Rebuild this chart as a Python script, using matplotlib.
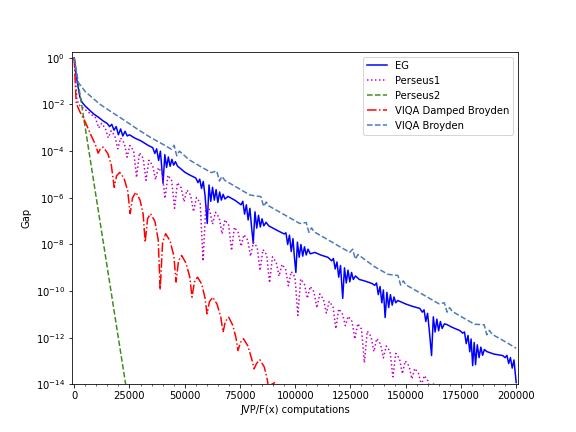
import numpy as np
import matplotlib.pyplot as plt

# x values in thousands of JVP/F(x) computations, y values as log10(Gap)
eg_x_k = [
    0, 0.5, 1.0, 1.5, 2.5, 3.5, 5, 7, 9, 11, 13, 15,
    16, 17, 18, 19, 20, 21, 22, 23, 24, 25, 27.6, 30, 33.4, 35.5,
    36.5, 37.3, 38.2, 39.0, 40.2, 41.0, 41.8, 42.6, 43.4, 44.2, 45.0, 45.8, 46.8, 47.9, 50, 52.4, 55,
    56.0, 56.8, 57.6, 58.4, 59.2, 60.2, 61.0, 61.8, 62.6, 63.4, 64.2, 65.0, 65.8, 66.6, 67.4, 68.2, 69.6, 72.8,
    75.5, 76.3, 77.1, 77.9, 78.7, 79.5, 80.2, 81.0, 81.8, 82.6, 83.4, 84.2, 85.0, 85.8, 86.8, 88.0, 90.9, 94,
    95.0, 95.8, 96.6, 97.4, 98.2, 99.0, 99.6, 100.3, 101.0, 101.8, 102.6, 103.4, 104.2, 105.0, 105.8, 106.8, 108.9, 111.5, 114.8,
    116.5, 117.3, 118.1, 118.9, 119.7, 120.5, 121.5, 122.3, 123.1, 123.9, 124.7, 125.5, 126.3, 127.3, 129, 131, 134.7,
    136.0, 136.8, 137.6, 138.4, 139.2, 139.9, 140.7, 141.5, 142.3, 143.1, 143.9, 144.7, 145.5, 146.4, 150, 153, 156.4,
    157.5, 158.3, 159.1, 159.9, 160.7, 161.7, 162.5, 163.3, 164.1, 164.9, 165.7, 166.5, 167.5, 168.6, 171, 174.5,
    175.8, 176.6, 177.4, 178.2, 179.0, 179.6, 180.3, 181.0, 181.6, 182.4, 183.2, 184.0, 184.8, 185.6, 186.7, 190, 193.9,
    195.0, 195.8, 196.6, 197.4, 198.2, 199.0, 200.0]
eg_log = [
    0, -0.45, -0.8, -1.1, -1.65, -1.9, -2.07, -2.25, -2.42, -2.55, -2.7, -2.82,
    -2.95, -2.85, -3.1, -2.95, -3.3, -3.05, -3.35, -3.15, -3.35, -3.3, -3.45, -3.55, -3.75, -3.85,
    -4.1, -3.9, -4.4, -4.0, -5.38, -4.15, -4.7, -4.25, -4.65, -4.35, -4.6, -4.45, -4.65, -4.73, -4.9, -5.03, -5.15,
    -5.35, -5.2, -5.6, -5.3, -5.9, -7.1, -5.45, -6.15, -5.55, -6.1, -5.65, -6.2, -5.75, -6.1, -5.85, -6.05, -5.94, -6.11,
    -6.3, -6.15, -6.7, -6.3, -6.95, -6.45, -7.2, -7.95, -6.6, -7.3, -6.75, -7.25, -6.9, -7.2, -7.05, -7.2, -7.35, -7.5,
    -7.55, -7.5, -8.0, -7.6, -8.3, -7.75, -8.5, -9.2, -7.9, -8.55, -8.0, -8.5, -8.1, -8.45, -8.2, -8.4, -8.34, -8.45, -8.55,
    -8.7, -8.6, -9.05, -8.75, -9.4, -8.9, -10.31, -9.0, -9.65, -9.1, -9.6, -9.2, -9.5, -9.35, -9.5, -9.55, -9.67,
    -9.75, -9.65, -10.15, -9.8, -10.5, -9.95, -11.13, -10.05, -10.7, -10.15, -10.6, -10.25, -10.5, -10.4, -10.55, -10.65, -10.74,
    -10.9, -10.8, -11.3, -10.95, -11.7, -12.76, -11.1, -11.75, -11.2, -11.7, -11.3, -11.6, -11.4, -11.43, -11.55, -11.69,
    -11.8, -11.75, -12.25, -11.9, -12.6, -12.05, -13.19, -12.2, -13.15, -12.3, -12.85, -12.4, -12.75, -12.5, -12.59, -12.7, -12.76,
    -12.85, -12.75, -13.1, -12.85, -13.3, -12.95, -13.92]

p1_x_k = [
    0, 0.6, 1.2, 2.0, 4.0, 6.0, 8.0, 9.5,
    11.1, 12.4, 14.1, 15.4, 16.7, 18.4, 19.7, 21.0, 22.7, 23.9, 25.2, 26.9,
    28.2, 29.5, 31.2, 32.5, 33.8, 35.5, 36.8, 38.1, 39.8, 41.1, 42.4, 44.1,
    45.4, 46.7, 48.4, 49.7, 51.0, 52.7, 54.0, 55.3, 57.0, 58.3, 59.6, 61.3,
    62.6, 63.9, 65.6, 66.9, 68.2, 69.9, 71.2, 72.5, 74.2, 75.5, 76.8, 78.5,
    79.8, 81.1, 82.8, 84.1, 85.4, 87.1, 88.4, 89.7, 91.4, 92.7, 94.0, 95.7,
    96.9, 98.2, 99.9, 101.2, 102.5, 104.2, 105.5, 106.8, 108.5, 109.8, 111.1, 112.8,
    114.1, 115.4, 117.1, 118.4, 119.7, 121.4, 122.7, 124.0, 125.7, 127.0, 128.3, 130.0,
    131.3, 132.6, 134.3, 135.6, 136.9, 138.6, 139.9, 141.2, 142.9, 144.2, 145.5, 147.2,
    148.5, 149.8, 151.5, 152.8, 154.1, 155.8, 157.1, 158.4, 160.1, 161.4, 162.7, 164.4]
p1_log = [
    0, -1.0, -1.75, -2.0, -2.15, -2.3, -2.45, -2.55,
    -3.01, -2.81, -3.03, -3.43, -3.13, -3.35, -3.90, -3.44, -3.67, -4.26, -3.76, -3.98,
    -5.13, -4.07, -4.30, -5.25, -4.39, -4.62, -5.22, -4.71, -4.94, -6.03, -5.03, -5.26,
    -6.45, -5.35, -5.57, -6.17, -5.67, -5.89, -6.59, -5.99, -6.21, -8.71, -6.30, -6.53,
    -7.13, -6.62, -6.85, -7.55, -6.94, -7.17, -8.26, -7.26, -7.49, -8.08, -7.58, -7.81,
    -8.50, -7.90, -8.12, -9.12, -8.22, -8.44, -9.64, -8.53, -8.76, -9.36, -8.85, -9.08,
    -9.77, -9.16, -9.39, -11.04, -9.48, -9.71, -10.31, -9.80, -10.03, -10.72, -10.12, -10.35,
    -10.94, -10.44, -10.67, -11.61, -10.76, -10.98, -11.48, -11.08, -11.30, -12.05, -11.39, -11.62,
    -13.07, -11.71, -11.94, -12.59, -12.03, -12.26, -12.86, -12.35, -12.58, -13.67, -12.67, -12.90,
    -13.54, -12.99, -13.21, -13.76, -13.31, -13.53, -14.03, -13.62, -13.85, -14.4, -13.94, -14.17]

p2_x_k = [0, 4, 8, 12, 16, 20, 24]
p2_log = [0, -2.40, -4.81, -7.21, -9.61, -12.02, -14.42]

damped_x_k = [
    0, 0.4, 0.9, 2.5, 5.0, 7.5, 9.5,
    10.85, 11.8, 13.1, 15.2, 16.8, 18.1, 19.2, 20.6, 22.5, 24.2,
    25.3, 26.4, 27.9, 29.8, 31.2, 32.1, 33.2, 34.5, 36.5, 38.0,
    38.9, 40.0, 41.4, 43.4, 45.1, 46.1, 47.2, 48.6, 50.6, 52.3,
    53.3, 54.4, 55.8, 57.7, 59.2, 60.1, 61.2, 62.7, 64.6, 66.3,
    67.35, 68.4, 69.9, 71.7, 73.2, 74.1, 75.2, 76.6, 78.6, 80.3,
    81.4, 82.5, 84.0, 86.0, 87.4, 88.1, 89.2, 91.0, 93.0, 94.5]
damped_log = [
    0, -0.9, -1.95, -2.3, -2.75, -3.3, -3.7,
    -4.09, -3.9, -3.83, -4.1, -4.6, -5.55, -5.05, -4.91, -5.15, -5.7,
    -6.68, -6.0, -5.76, -6.1, -6.7, -7.90, -6.9, -6.68, -7.0, -7.8,
    -9.94, -7.9, -7.54, -7.85, -8.5, -9.61, -8.7, -8.47, -8.8, -9.4,
    -10.26, -9.6, -9.40, -9.7, -10.3, -10.97, -10.45, -10.26, -10.55, -11.1,
    -11.76, -11.3, -11.12, -11.45, -12.0, -12.55, -12.2, -12.04, -12.35, -12.9,
    -13.33, -13.1, -12.94, -13.25, -13.8, -14.3, -14.0, -13.91, -14.2, -14.8]

broyden_x_k = [
    0, 0.9, 1.8, 5, 11.75, 17, 23, 28.5, 34.3, 40, 44, 45.2, 46.4, 47.6, 52, 57,
    62, 64.5, 65.7, 66.9, 68.1, 73, 79.5, 84.5, 85.7, 86.9, 88.1, 95,
    102, 105, 106.2, 107.4, 108.6, 113.4, 119, 124.7, 126, 127.2, 128.4, 136,
    142, 146.5, 147.7, 148.9, 150.1, 158.6, 165, 167.5, 168.7, 169.9, 171.1, 176,
    181.2, 185.5, 186.7, 187.9, 189.1, 192.5, 196, 200]
broyden_log = [
    0, -0.55, -1.05, -1.45, -2.0, -2.33, -2.7, -3.05, -3.4, -3.7, -3.92, -3.75, -4.2, -4.0, -4.37, -4.65,
    -4.92, -4.85, -5.28, -5.08, -5.25, -5.52, -5.88, -5.95, -6.37, -6.18, -6.35, -6.72,
    -7.1, -7.06, -7.48, -7.29, -7.46, -7.72, -8.03, -8.34, -8.2, -8.63, -8.43, -8.96,
    -9.28, -9.33, -9.74, -9.56, -9.73, -10.19, -10.54, -10.5, -10.9, -10.71, -10.87, -11.14,
    -11.42, -11.44, -11.87, -11.68, -11.85, -12.03, -12.22, -12.45]


def xy(xk, logs):
    return np.array(xk) * 1000, 10.0 ** np.array(logs)


plt.figure(figsize=(8, 6), dpi=72)
plt.semilogy(*xy(eg_x_k, eg_log), color='blue', linestyle='-', label='EG')
plt.semilogy(*xy(p1_x_k, p1_log), color='m', linestyle=':', label='Perseus1')
plt.semilogy(*xy(p2_x_k, p2_log), color='#3f8a1c', linestyle='--', label='Perseus2')
plt.semilogy(*xy(damped_x_k, damped_log), color='red', linestyle='-.', label='VIQA Damped Broyden')
plt.semilogy(*xy(broyden_x_k, broyden_log), color='#4a7ab8', linestyle='--', label='VIQA Broyden')
plt.xlim(-1000, 201000)
plt.ylim(1e-14, 1.8)
plt.minorticks_on()
plt.xlabel('JVP/F(x) computations')
plt.ylabel('Gap')
plt.legend(loc='upper right')
plt.savefig('out.png', dpi=72)
